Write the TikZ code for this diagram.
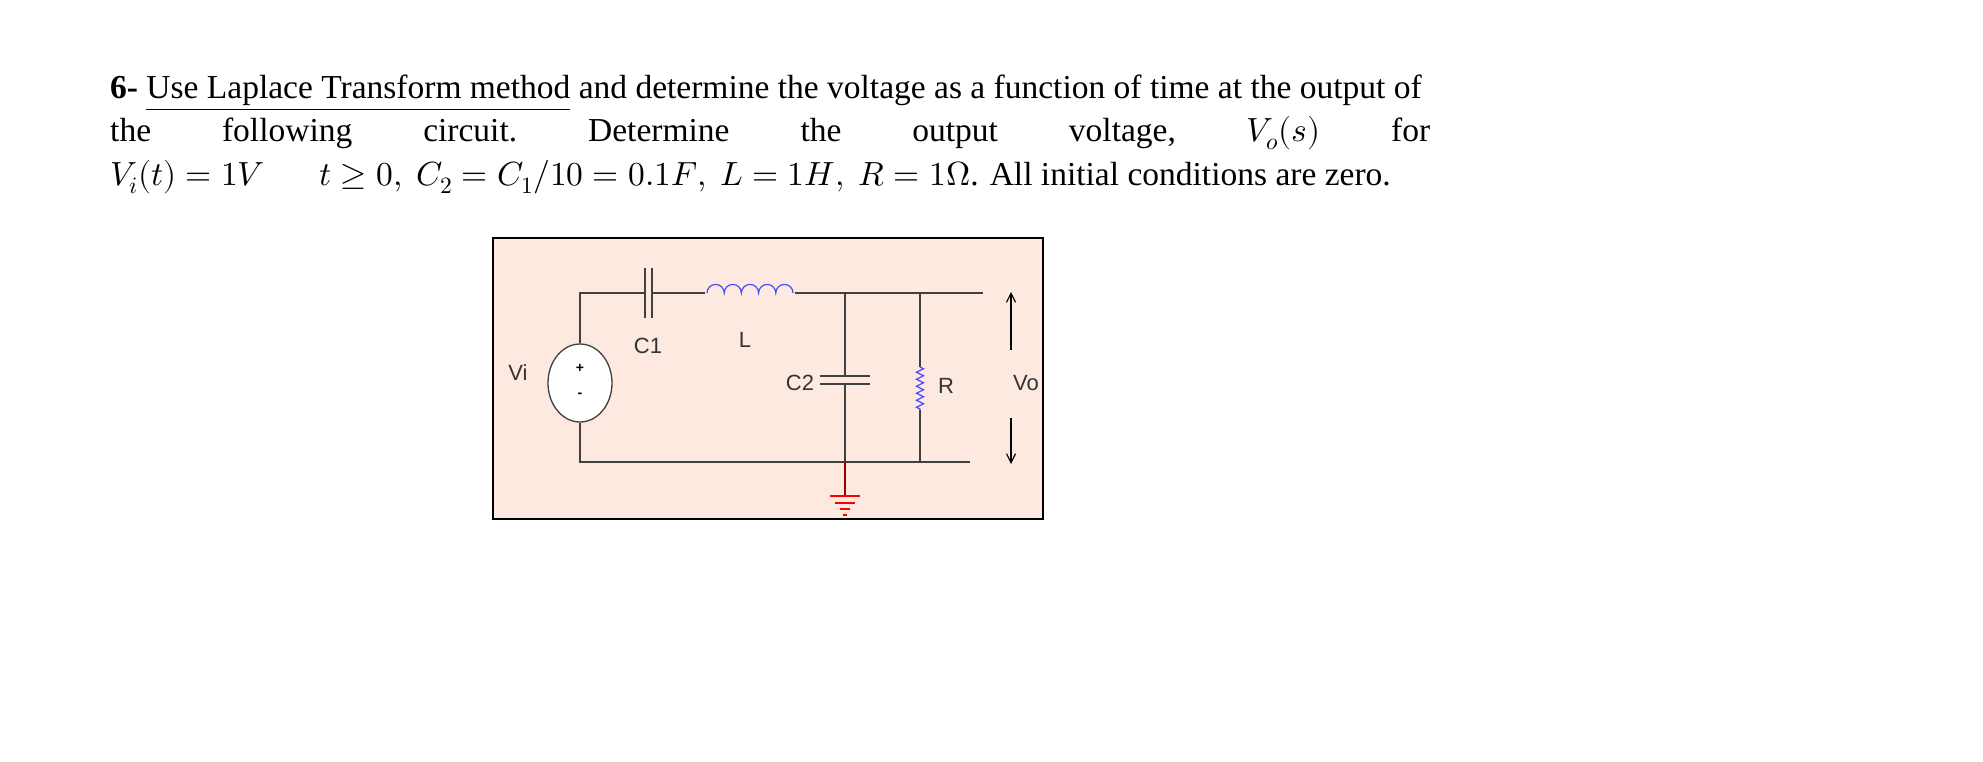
\documentclass[tikz,border=0pt]{standalone}
\usepackage{amsmath}
\usepackage{fontspec}
\usepackage{unicode-math}
\setmainfont{Liberation Serif}
\setmathfont{Latin Modern Math}
\newfontfamily\sansf{Liberation Sans}
\usetikzlibrary{decorations.pathmorphing,arrows.meta,shapes.geometric}
\begin{document}
\begin{tikzpicture}[x=1pt,y=-1pt,
  wire/.style={line width=1.4pt,draw=black!75},
  lab/.style={font=\sansf\fontsize{22}{22}\selectfont,text=black!80,inner sep=0pt},
  txt/.style={anchor=base west,inner sep=0pt,font=\fontsize{33.5}{33.5}\selectfont}]
\useasboundingbox (0,0) rectangle (1983,761);
% text
\node[txt] (l1) at (110,98) {\textbf{6-} \underline{Use Laplace Transform method} and determine the voltage as a function of time at the output of};
\node[txt] (l2) at (110,141) {\makebox[1320pt][s]{the\hfill following\hfill circuit.\hfill Determine\hfill the\hfill output\hfill voltage,\hfill $V_o(s)$\hfill for}};
\node[txt] (l3) at (110,185) {$V_i(t)=1V$\hspace{55pt}$t\geq 0,\ C_2=C_1/10=0.1F,\ L=1H,\ R=1\Omega$. All initial conditions are zero.};
% box
\draw[fill={rgb,255:red,253;green,233;blue,223},line width=1.5pt] (493,238) rectangle (1043,519);
\coordinate (tl) at (580,293);
\coordinate (bl) at (580,462);
\node[draw=black!75,line width=1.3pt,fill=white,ellipse,minimum width=64pt,minimum height=78pt,inner sep=0pt] (vs) at (580,383) {};
\node[font=\sansf\bfseries\fontsize{14}{14}\selectfont] (plus) at (580,368) {+};
\node[font=\sansf\bfseries\fontsize{14}{14}\selectfont] (minus) at (580,395) {-};
\coordinate (c1a) at (645,293);
\coordinate (c1b) at (652,293);
\coordinate (la) at (705,293);
\coordinate (lb) at (795,293);
\coordinate (n1) at (845,293);
\coordinate (n2) at (920,293);
\coordinate (to) at (983,293);
\coordinate (b1) at (845,462);
\coordinate (b2) at (920,462);
\coordinate (bo) at (970,462);
\draw[wire] (vs.north) -- (tl) -- (c1a);
\draw[wire] (645,268) -- (645,318) (652,268) -- (652,318);
\draw[wire] (c1b) -- (la);
\draw[line width=1.2pt,draw=blue!70] (707,293) \foreach \i in {0,...,4}{ arc[start angle=180,end angle=360,radius=8.6] };
\draw[wire] (lb) -- (to);
\draw[wire] (vs.south) -- (bl) -- (bo);
% C2
\draw[wire] (n1) -- (845,376) (845,384) -- (b1);
\draw[wire] (820,376) -- (870,376) (820,384) -- (870,384);
% R
\draw[wire] (n2) -- (920,367) (920,410) -- (b2);
\draw[line width=1.2pt,draw=blue!70,decorate,decoration={zigzag,segment length=7,amplitude=3.5}] (920,367) -- (920,410);
% ground
\draw[line width=1.2pt,draw=red!60!black] (b1) -- (845,496);
\draw[line width=1.4pt,draw=red] (830,496) -- (860,496) (835,503) -- (855,503) (840,509) -- (850,509) (843,515) -- (847,515);
% arrows
\coordinate (a1s) at (1011,350); \coordinate (a1e) at (1011,292);
\coordinate (a2s) at (1011,418); \coordinate (a2e) at (1011,464);
\draw[line width=1.2pt,-{Straight Barb[length=9,width=9]}] (a1s) -- (a1e);
\draw[line width=1.2pt,-{Straight Barb[length=9,width=9]}] (a2s) -- (a2e);
% labels
\node[lab] (lc1) at (648,346) {C1};
\node[lab] (ll) at (745,340) {L};
\node[lab] (lvi) at (518,373) {Vi};
\node[lab] (lc2) at (800,383) {C2};
\node[lab] (lr) at (946,386) {R};
\node[lab] (lvo) at (1026,383) {Vo};
\end{tikzpicture}
\end{document}
